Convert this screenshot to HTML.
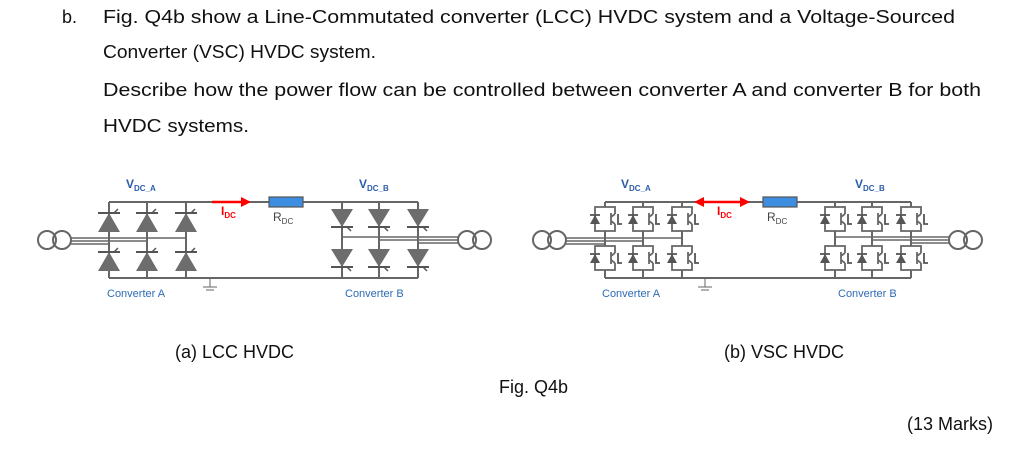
<!DOCTYPE html>
<html><head><meta charset="utf-8"><style>
html,body{margin:0;padding:0;background:#fff;}
svg{display:block;font-family:"Liberation Sans",Arial,sans-serif;}
</style></head><body>
<svg width="1024" height="474" viewBox="0 0 1024 474" xmlns="http://www.w3.org/2000/svg">
<defs>
  <g id="thyU">
    <polygon points="-11,19 11,19 0,0" fill="#6d6d6d"/>
    <line x1="-11" y1="0" x2="11" y2="0" stroke="#555" stroke-width="2"/>
    <line x1="5" y1="0" x2="9" y2="-4" stroke="#555" stroke-width="1.5"/>
  </g>
  <g id="thyD">
    <polygon points="-11,0 11,0 0,18" fill="#6d6d6d"/>
    <line x1="-11" y1="18" x2="11" y2="18" stroke="#555" stroke-width="2"/>
    <line x1="5" y1="18" x2="9" y2="22" stroke="#555" stroke-width="1.5"/>
  </g>
  <g id="igbt">
    <polyline points="10,7 10,0 -10,0 -10,24 10,24 10,17" fill="none" stroke="#666" stroke-width="1.8"/>
    <polygon points="-15,17 -5,17 -10,8" fill="#555"/>
    <line x1="-15" y1="8" x2="-5" y2="8" stroke="#555" stroke-width="1.8"/>
    <line x1="6" y1="6" x2="6" y2="18" stroke="#666" stroke-width="1.8"/>
    <line x1="10" y1="7" x2="6" y2="10" stroke="#666" stroke-width="1.8"/>
    <line x1="6" y1="14" x2="10" y2="17" stroke="#666" stroke-width="1.8"/>
    <polyline points="13,7 13,17 17,17" fill="none" stroke="#555" stroke-width="1.8"/>
  </g>
</defs>

<g font-size="18" fill="#111">
  <text x="62" y="23">b.</text>
  <text x="103" y="23" textLength="852" lengthAdjust="spacingAndGlyphs">Fig. Q4b show a Line-Commutated converter (LCC) HVDC system and a Voltage-Sourced</text>
  <text x="103" y="58" textLength="273" lengthAdjust="spacingAndGlyphs">Converter (VSC) HVDC system.</text>
  <text x="103" y="96" textLength="878" lengthAdjust="spacingAndGlyphs">Describe how the power flow can be controlled between converter A and converter B for both</text>
  <text x="103" y="132" textLength="146" lengthAdjust="spacingAndGlyphs">HVDC systems.</text>
  <text x="175" y="358">(a) LCC HVDC</text>
  <text x="724" y="358">(b) VSC HVDC</text>
  <text x="499" y="393">Fig. Q4b</text>
  <text x="907" y="430">(13 Marks)</text>
</g>

<!-- LCC -->
<g stroke="#666" stroke-width="2" fill="none">
  <line x1="109" y1="202" x2="269" y2="202"/>
  <line x1="303" y1="202" x2="418" y2="202"/>
  <line x1="109" y1="278" x2="418" y2="278"/>
  <line x1="109" y1="202" x2="109" y2="278"/>
  <line x1="147" y1="202" x2="147" y2="278"/>
  <line x1="186" y1="202" x2="186" y2="278"/>
  <line x1="342" y1="202" x2="342" y2="278"/>
  <line x1="379" y1="202" x2="379" y2="278"/>
  <line x1="418" y1="202" x2="418" y2="278"/>
  <line x1="71" y1="238" x2="186" y2="238" stroke-width="1.5"/>
  <line x1="71" y1="241" x2="147" y2="241" stroke-width="1.5"/>
  <line x1="71" y1="244" x2="109" y2="244" stroke-width="1.5"/>
  <line x1="342" y1="237" x2="459" y2="237" stroke-width="1.5"/>
  <line x1="379" y1="240" x2="459" y2="240" stroke-width="1.5"/>
  <line x1="418" y1="243" x2="459" y2="243" stroke-width="1.5"/>
  <circle cx="47" cy="240" r="9"/><circle cx="62" cy="240" r="9"/>
  <circle cx="467" cy="240" r="9"/><circle cx="482" cy="240" r="9"/>
  <line x1="210" y1="278" x2="210" y2="287" stroke-width="1"/>
  <line x1="203" y1="287" x2="217" y2="287" stroke-width="1"/>
  <line x1="206" y1="290" x2="214" y2="290" stroke-width="1"/>
</g>
<use href="#thyU" x="109" y="213"/><use href="#thyU" x="147" y="213"/><use href="#thyU" x="186" y="213"/>
<use href="#thyU" x="109" y="252"/><use href="#thyU" x="147" y="252"/><use href="#thyU" x="186" y="252"/>
<use href="#thyD" x="342" y="209"/><use href="#thyD" x="379" y="209"/><use href="#thyD" x="418" y="209"/>
<use href="#thyD" x="342" y="249"/><use href="#thyD" x="379" y="249"/><use href="#thyD" x="418" y="249"/>
<rect x="269" y="197" width="34" height="10" fill="#3d8ee0" stroke="#555" stroke-width="1.2"/>
<line x1="212" y1="202" x2="243" y2="202" stroke="#f00" stroke-width="2.5"/>
<polygon points="241,197 251,202 241,207" fill="#f00"/>

<!-- VSC -->
<g stroke="#666" stroke-width="2" fill="none">
  <line x1="605" y1="202" x2="763" y2="202"/>
  <line x1="797" y1="202" x2="911" y2="202"/>
  <line x1="605" y1="278" x2="911" y2="278"/>
  <line x1="566" y1="238" x2="682" y2="238" stroke-width="1.5"/>
  <line x1="566" y1="241" x2="643" y2="241" stroke-width="1.5"/>
  <line x1="566" y1="244" x2="605" y2="244" stroke-width="1.5"/>
  <line x1="835" y1="237" x2="950" y2="237" stroke-width="1.5"/>
  <line x1="872" y1="240" x2="950" y2="240" stroke-width="1.5"/>
  <line x1="911" y1="243" x2="950" y2="243" stroke-width="1.5"/>
  <circle cx="542" cy="240" r="9"/><circle cx="557" cy="240" r="9"/>
  <circle cx="958" cy="240" r="9"/><circle cx="973" cy="240" r="9"/>
  <line x1="705" y1="278" x2="705" y2="287" stroke-width="1"/>
  <line x1="698" y1="287" x2="712" y2="287" stroke-width="1"/>
  <line x1="701" y1="290" x2="709" y2="290" stroke-width="1"/>
</g>
<g stroke="#666" stroke-width="2">
  <path d="M605 202V207M605 231V246M605 270V278 M643 202V207M643 231V246M643 270V278 M682 202V207M682 231V246M682 270V278 M835 202V207M835 231V246M835 270V278 M872 202V207M872 231V246M872 270V278 M911 202V207M911 231V246M911 270V278"/>
</g>
<use href="#igbt" x="605" y="207"/><use href="#igbt" x="643" y="207"/><use href="#igbt" x="682" y="207"/>
<use href="#igbt" x="605" y="246"/><use href="#igbt" x="643" y="246"/><use href="#igbt" x="682" y="246"/>
<use href="#igbt" x="835" y="207"/><use href="#igbt" x="872" y="207"/><use href="#igbt" x="911" y="207"/>
<use href="#igbt" x="835" y="246"/><use href="#igbt" x="872" y="246"/><use href="#igbt" x="911" y="246"/>
<rect x="763" y="197" width="34" height="10" fill="#3d8ee0" stroke="#555" stroke-width="1.2"/>
<line x1="702" y1="202" x2="742" y2="202" stroke="#f00" stroke-width="2.5"/>
<polygon points="704,197 694,202 704,207" fill="#f00"/>
<polygon points="740,197 750,202 740,207" fill="#f00"/>

<!-- labels -->
<g font-size="11" fill="#2e6bb5">
  <text x="126" y="188" font-size="12" font-weight="bold" fill="#2a5ca8">V<tspan font-size="8" dy="3">DC_A</tspan></text>
  <text x="359" y="188" font-size="12" font-weight="bold" fill="#2a5ca8">V<tspan font-size="8" dy="3">DC_B</tspan></text>
  <text x="221" y="215" font-size="12" font-weight="bold" fill="#f00">I<tspan font-size="8" dy="3">DC</tspan></text>
  <text x="273" y="221" font-size="12" fill="#444">R<tspan font-size="8" dy="3">DC</tspan></text>
  <text x="107" y="297">Converter A</text>
  <text x="345" y="297">Converter B</text>
  <text x="621" y="188" font-size="12" font-weight="bold" fill="#2a5ca8">V<tspan font-size="8" dy="3">DC_A</tspan></text>
  <text x="855" y="188" font-size="12" font-weight="bold" fill="#2a5ca8">V<tspan font-size="8" dy="3">DC_B</tspan></text>
  <text x="717" y="215" font-size="12" font-weight="bold" fill="#f00">I<tspan font-size="8" dy="3">DC</tspan></text>
  <text x="767" y="221" font-size="12" fill="#444">R<tspan font-size="8" dy="3">DC</tspan></text>
  <text x="602" y="297">Converter A</text>
  <text x="838" y="297">Converter B</text>
</g>
</svg>
</body></html>
